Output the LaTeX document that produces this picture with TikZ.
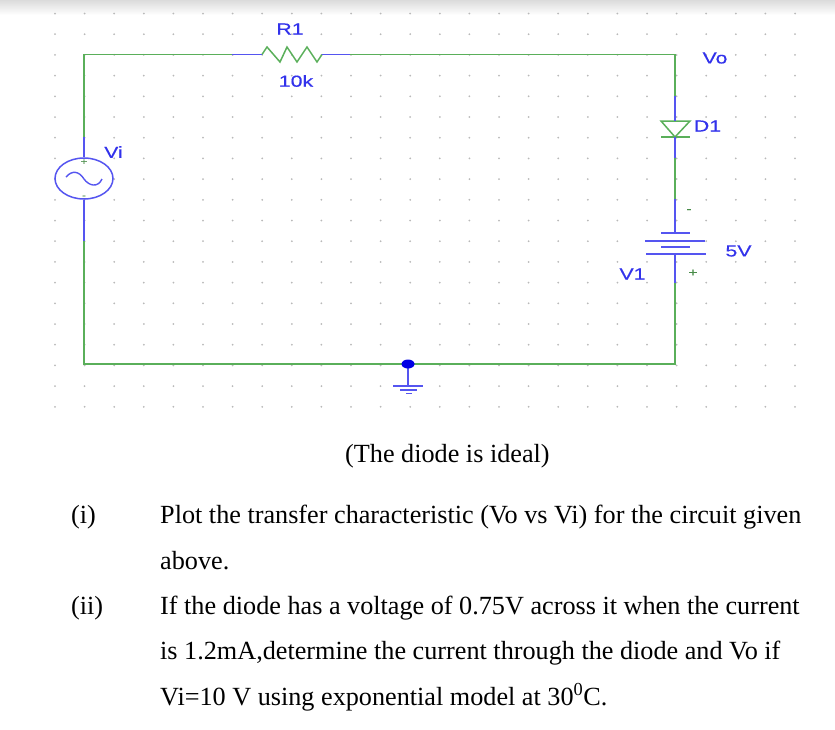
\documentclass[tikz,border=0pt]{standalone}
\usepackage{fontspec}
\usetikzlibrary{shapes.geometric}
\setmainfont{Liberation Serif}
\setsansfont{Liberation Sans}
\newfontfamily\labfont[FakeStretch=1.33,FakeBold=0.4]{Liberation Sans}
\definecolor{wiregreen}{RGB}{90,175,90}
\definecolor{pinblue}{RGB}{85,85,240}
\definecolor{labelblue}{RGB}{50,50,235}
\definecolor{griddot}{RGB}{185,185,185}
\tikzset{
 wire/.style={wiregreen, line width=1.9pt},
 pin/.style={pinblue, line width=1.9pt},
 part/.style={wiregreen, line width=1.5pt},
 lab/.style={labelblue, font=\labfont\fontsize{16}{16}\selectfont, inner sep=0},
 polar/.style={wiregreen!80!black, font=\labfont\fontsize{12}{12}\selectfont, inner sep=0},
 txt/.style={black, font=\fontsize{26.2}{26.2}\selectfont, anchor=base west, inner sep=0},
}
\begin{document}
\begin{tikzpicture}[x=1pt,y=-1pt]
\useasboundingbox (0,0) rectangle (835,729);
\shade[top color=black!14, bottom color=white] (0,0) rectangle (835,15);
% dots
\foreach \i in {0,...,25} {
 \foreach \j in {0,...,19} {
  \fill[griddot] (55+29.6*\i,13.5+20.7*\j) circle (1);
 }
}
% corners
\coordinate (tl) at (84,54.5);
\coordinate (tr) at (675,54.5);
\coordinate (bl) at (84,364);
\coordinate (br) at (675,364);
\coordinate (srctop) at (84,137);
\coordinate (srcbot) at (84,241);
\coordinate (rleft) at (232,54.5);
\coordinate (rright) at (350,54.5);
\coordinate (dtop) at (675,96);
\coordinate (dbot) at (675,158);
\coordinate (btop) at (675,199);
\coordinate (bbot) at (675,283);
% source
\node[draw=pinblue, line width=1.5pt, ellipse, minimum width=58, minimum height=41, inner sep=0, fill=white] (src) at (84,178.5) {};
\draw[pinblue, line width=1.4pt] (66,177) .. controls (72,170) and (79,171) .. (84,179) .. controls (89,186) and (98,188) .. (102,179);
% resistor
\coordinate (rin) at (262,54.5);
\coordinate (rout) at (322,54.5);
\draw[part] (rin) -- (267,47) -- (280,62) -- (287,47) -- (297,62) -- (307,47) -- (317,62) -- (rout);
% diode
\coordinate (dk) at (675,137);
\coordinate (da) at (675,121);
\draw[part] (661,121) -- (690,121) -- (dk) -- cycle;
\draw[part] (661,137) -- (690,137);
% battery
\coordinate (bneg) at (675,233);
\coordinate (bpos) at (675,254);
\draw[pin] (661,233) -- (690,233);
\draw[pin] (645,241) -- (705,241);
\draw[pin] (661,247) -- (690,247);
\draw[pin] (646,254) -- (706,254);
% ground
\coordinate (gnd) at (408,364);
\coordinate (gndb) at (408,386);
\draw[pin] (393,386) -- (423,386);
\draw[pin] (400,390) -- (417,390);
\draw[pin] (406,393.5) -- (412,393.5);
% wires
\draw[wire] (srctop) -- (tl) -- (rleft);
\draw[wire] (rright) -- (tr) -- (dtop);
\draw[wire] (srcbot) -- (bl) -- (br) -- (bbot);
\draw[wire] (dbot) -- (btop);
% pins
\draw[pin] (srctop) -- (src.north);
\draw[pin] (src.south) -- (srcbot);
\draw[pin] (rleft) -- (rin);
\draw[pin] (rout) -- (rright);
\draw[pin] (dtop) -- (da);
\draw[pin] (dk) -- (dbot);
\draw[pin] (btop) -- (bneg);
\draw[pin] (bpos) -- (bbot);
\draw[pin] (gnd) -- (gndb);
\fill[blue!90!black] (gnd) ellipse (6.5 and 4.5);
% labels
\node[lab] (r1lab) at (290,29) {R1};
\node[lab] (rval) at (296,81) {10k};
\node[lab] (vilab) at (113.5,152) {Vi};
\node[lab] (volab) at (715,58) {Vo};
\node[lab] (d1lab) at (707.5,126) {D1};
\node[lab] (vval) at (738.5,251) {5V};
\node[lab] (v1lab) at (632.5,274) {V1};
\node[polar] (plus) at (693,273) {+};
\node[polar] (minus) at (689,211) {-};
\node[polar, font=\labfont\fontsize{9}{9}\selectfont] (srcplus) at (84,162) {+};
\node[polar, font=\labfont\fontsize{9}{9}\selectfont] (srcminus) at (84,197) {-};
% text
\node[txt] (t0) at (345,462) {(The diode is ideal)};
\node[txt] (n1) at (71,523) {(i)};
\node[txt] (t1) at (160,523) {Plot the transfer characteristic (Vo vs Vi) for the circuit given};
\node[txt] (t2) at (160,569) {above.};
\node[txt] (n2) at (71,614) {(ii)};
\node[txt] (t3) at (160,614) {If the diode has a voltage of 0.75V across it when the current};
\node[txt] (t4) at (160,659) {is 1.2mA,determine the current through the diode and Vo if};
\node[txt] (t5) at (160,705) {Vi=10 V using exponential model at 30\textsuperscript{0}C.};
\end{tikzpicture}
\end{document}
